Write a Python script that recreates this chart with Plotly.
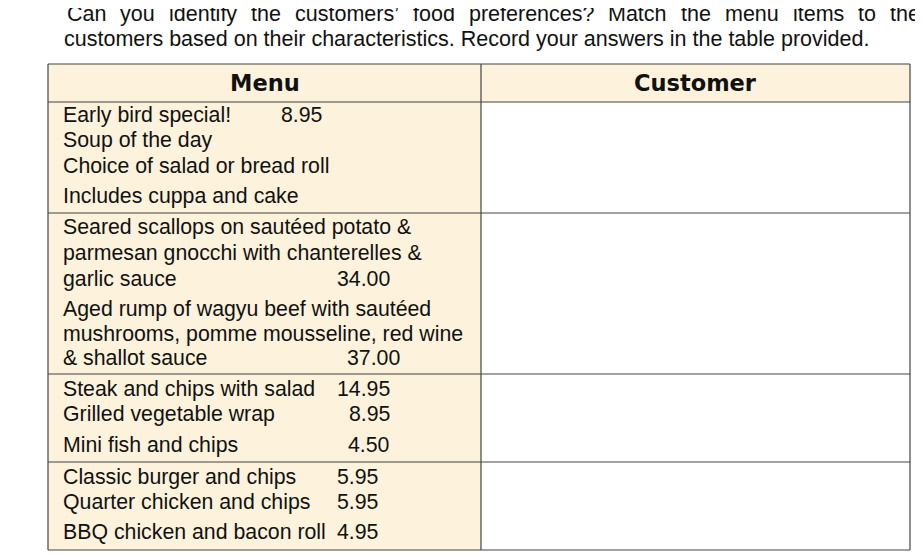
import plotly.graph_objects as go

# question text
q_line1 = "Q31: Can you identify the customers’ food preferences? Match the menu items to the"
q_line2 = "customers based on their characteristics. Record your answers in the table provided."

headers = ["Menu", "Customer"]

# menu rows: (item text, price) per line
row1_items = ["Early bird special!", "Soup of the day", "Choice of salad or bread roll", "Includes cuppa and cake"]
row1_prices = ["8.95", "", "", ""]
row2_items = ["Seared scallops on sautéed potato &", "parmesan gnocchi with chanterelles &", "garlic sauce",
              "Aged rump of wagyu beef with sautéed", "mushrooms, pomme mousseline, red wine", "& shallot sauce"]
row2_prices = ["", "", "34.00", "", "", "37.00"]
row3_items = ["Steak and chips with salad", "Grilled vegetable wrap", "Mini fish and chips"]
row3_prices = ["14.95", "8.95", "4.50"]
row4_items = ["Classic burger and chips", "Quarter chicken and chips", "BBQ chicken and bacon roll"]
row4_prices = ["5.95", "5.95", "4.95"]

rows = [(row1_items, row1_prices), (row2_items, row2_prices), (row3_items, row3_prices), (row4_items, row4_prices)]

# layout (pixels of the page; the page body has an 8px margin)
W, H = 923, 555
OFF = 8
left, mid, right = 48, 481, 910
row_edges = [64, 102, 213, 374, 462, 550]
line_y = [[115, 140, 166, 196], [227, 253, 279, 309, 334, 358], [389, 414, 445], [477, 502, 532]]
price_right = [[324], [392, 392, 392, 392, 402, 402], [392, 392, 392], [380, 380, 380]]
cream = "#FDF3DC"
BODY = "Liberation Sans, Arial, sans-serif"
FS = 21.3

AW = {'a': 556, 'b': 556, 'c': 500, 'd': 556, 'e': 556, 'f': 278, 'g': 556, 'h': 556, 'i': 222, 'j': 222,
      'k': 500, 'l': 222, 'm': 833, 'n': 556, 'o': 556, 'p': 556, 'q': 556, 'r': 333, 's': 500, 't': 278,
      'u': 556, 'v': 500, 'w': 722, 'x': 500, 'y': 500, 'z': 500, 'Q': 778, 'C': 722, 'M': 833, 'R': 722,
      '?': 556, ':': 278, '.': 278, '’': 222, '3': 556, '1': 556}


def text_w(s, size):
    return sum(AW.get(c, 556) for c in s) * size / 1000


fig = go.Figure()
shapes = []
ann = []

# cells
shapes.append(dict(type="rect", x0=left, x1=mid, y0=row_edges[0], y1=row_edges[-1],
                   fillcolor=cream, line=dict(width=0), layer="below"))
shapes.append(dict(type="rect", x0=mid, x1=right, y0=row_edges[0], y1=row_edges[1],
                   fillcolor=cream, line=dict(width=0), layer="below"))
for y in row_edges:
    shapes.append(dict(type="line", x0=left, x1=right, y0=y, y1=y, line=dict(color="#444", width=1.2)))
for x in (left, mid, right):
    shapes.append(dict(type="line", x0=x, x1=x, y0=row_edges[0], y1=row_edges[-1], line=dict(color="#444", width=1.2)))

# headers
for h, (a, b) in zip(headers, [(left, mid), (mid, right)]):
    ann.append(dict(x=(a + b) / 2, y=83, text="<b>" + h + "</b>", showarrow=False,
                    font=dict(family="DejaVu Sans", size=22.5, color="#111")))

# body
for (items, prices), ys, prs in zip(rows, line_y, price_right):
    for i, (t, p) in enumerate(zip(items, prices)):
        ann.append(dict(x=61, y=ys[i], text=t, xanchor="left", showarrow=False,
                        font=dict(family=BODY, size=FS, color="#111")))
        if p:
            ann.append(dict(x=prs[i] if len(prs) > i else prs[0], y=ys[i], text=p, xanchor="right",
                            showarrow=False, font=dict(family=BODY, size=FS, color="#111")))

# justified question line
qs = 21.5
words = q_line1.split(" ")
total = sum(text_w(w, qs) for w in words)
gap = (918 - 4 - total) / (len(words) - 1)
x = 4
for w in words:
    ann.append(dict(x=x, y=14, text=w, xanchor="left", showarrow=False,
                    font=dict(family=BODY, size=qs, color="#111")))
    x += text_w(w, qs) + gap
ann.append(dict(x=62, y=39, text=q_line2, xanchor="left", showarrow=False,
                font=dict(family=BODY, size=qs, color="#111")))

for a in ann:
    a.setdefault("xref", "x")
    a.setdefault("yref", "y")

fig.update_layout(width=W - OFF, height=H - OFF, margin=dict(l=0, r=0, t=0, b=0),
                  paper_bgcolor="white", plot_bgcolor="white", shapes=shapes, annotations=ann,
                  xaxis=dict(range=[OFF, W], visible=False, fixedrange=True),
                  yaxis=dict(range=[H, OFF], visible=False, fixedrange=True),
                  showlegend=False)
fig.write_html("out.html")
